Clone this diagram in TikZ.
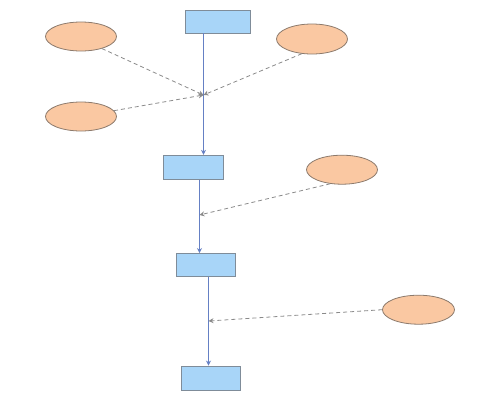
\documentclass[tikz,border=0pt]{standalone}
\usetikzlibrary{arrows.meta,shapes.geometric}
\definecolor{boxfill}{HTML}{A8D5F8}
\definecolor{boxline}{HTML}{7F8C99}
\definecolor{ellfill}{HTML}{FAC8A2}
\definecolor{ellline}{HTML}{8C7A6C}
\definecolor{flow}{HTML}{6580C4}
\definecolor{dash}{HTML}{8A8A8A}
\tikzset{
  stepbox/.style={draw=boxline,fill=boxfill,line width=0.9pt,rectangle,inner sep=0pt,minimum height=23pt},
  bubble/.style={draw=ellline,fill=ellfill,line width=0.8pt,ellipse,inner sep=0pt,minimum width=71pt,minimum height=29pt},
  flowline/.style={draw=flow,line width=1.8pt,-{Stealth[length=5pt,width=5pt]}},
  dashline/.style={draw=dash,line width=0.8pt,dash pattern=on 4pt off 3pt,-{Stealth[length=5pt,width=5pt]}}
}
\begin{document}
\begin{tikzpicture}[x=1pt,y=-1pt]
\useasboundingbox (0,0) rectangle (500,400);
\node[stepbox,minimum width=65pt] (b1) at (217.5,21.5) {};
\node[stepbox,minimum width=60pt,minimum height=24pt] (b2) at (193.5,167.3) {};
\node[stepbox,minimum width=59pt] (b3) at (206,265) {};
\node[stepbox,minimum width=59pt,minimum height=24pt] (b4) at (211.3,378) {};
\node[bubble] (e1) at (81,36.5) {};
\node[bubble,minimum height=30pt] (e2) at (312,39) {};
\node[bubble] (e3) at (81,116.5) {};
\node[bubble] (e4) at (342,169.7) {};
\node[bubble,minimum width=72pt] (e5) at (418.5,309.7) {};
\coordinate (j1) at (203.5,95);
\coordinate (j2) at (199.5,215);
\coordinate (j3) at (208.5,321);
\draw[flowline] (j1 |- b1.south) -- (j1 |- b2.north);
\draw[flowline] (j2 |- b2.south) -- (j2 |- b3.north);
\draw[flowline] (j3 |- b3.south) -- (j3 |- b4.north);
\draw[dashline] (e1.-30) -- (j1);
\draw[dashline] (e2.-125) -- (j1);
\draw[dashline] (e3.10) -- (j1);
\draw[dashline] (e4.-130) -- (j2);
\draw[dashline] (e5.180) -- (j3);
\end{tikzpicture}
\end{document}
